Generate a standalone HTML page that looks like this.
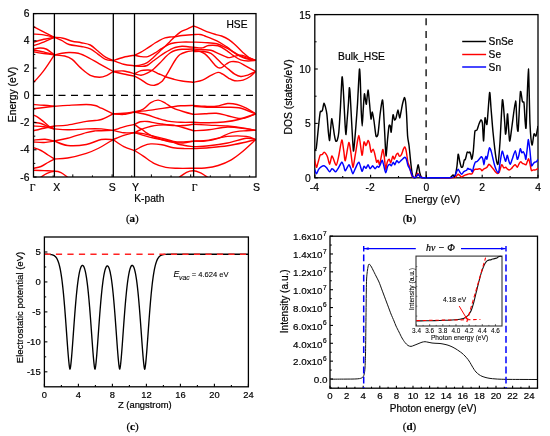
<!DOCTYPE html>
<html><head><meta charset="utf-8"><title>SnSe figure</title>
<style>html,body{margin:0;padding:0;background:#fff;overflow:hidden}svg{display:block}text{stroke:#000;stroke-width:0.2px;fill:#000}text.sm{stroke-width:0.08px}</style>
</head><body>
<svg width="550" height="436" viewBox="0 0 550 436"><rect width="550" height="436" fill="#fff"/><g id="pa">
<clipPath id="ca"><rect x="33.5" y="13.6" width="222.5" height="163.4"/></clipPath>
<g clip-path="url(#ca)" fill="none" stroke="#f00" stroke-width="1.4">
<path d="M33.5,26.6C34.93,27.35 38.62,29.32 42.1,31.1C45.58,32.88 52.35,36.27 54.4,37.3"/>
<path d="M33.5,34.1C34.93,34.18 38.62,34.07 42.1,34.6C45.58,35.13 52.35,36.85 54.4,37.3"/>
<path d="M33.5,42.2C34.93,41.78 38.62,40.52 42.1,39.7C45.58,38.88 52.35,37.7 54.4,37.3"/>
<path d="M33.5,45.7C34.93,45.2 38.62,44.1 42.1,42.7C45.58,41.3 52.35,38.2 54.4,37.3"/>
<path d="M33.5,49.3C34.58,49.08 37.92,48.05 40,48C42.08,47.95 43.6,47.87 46,49C48.4,50.13 53,53.83 54.4,54.8"/>
<path d="M33.5,50.3C34.93,50.52 38.62,50.85 42.1,51.6C45.58,52.35 52.35,54.27 54.4,54.8"/>
<path d="M33.5,51.8C34.93,52.05 38.62,52.8 42.1,53.3C45.58,53.8 52.35,54.55 54.4,54.8"/>
<path d="M33.5,82.3C34.25,81.52 36.42,79.38 38,77.6C39.58,75.82 41.33,73.77 43,71.6C44.67,69.43 46.1,67.4 48,64.6C49.9,61.8 53.33,56.43 54.4,54.8"/>
<path d="M33.5,104.5C35.25,104.63 40.52,105 44,105.3C47.48,105.6 52.67,106.13 54.4,106.3"/>
<path d="M33.5,108.8C35.25,108.58 40.52,107.92 44,107.5C47.48,107.08 52.67,106.5 54.4,106.3"/>
<path d="M33.5,122.3C34.75,122.5 38.58,122.8 41,123.5C43.42,124.2 45.77,125.6 48,126.5C50.23,127.4 53.33,128.5 54.4,128.9"/>
<path d="M33.5,115C34.25,115.38 36.25,116.13 38,117.3C39.75,118.47 42.17,120.5 44,122C45.83,123.5 47.27,125.15 49,126.3C50.73,127.45 53.5,128.47 54.4,128.9"/>
<path d="M33.5,126C35.25,126.13 40.52,126.32 44,126.8C47.48,127.28 52.67,128.55 54.4,128.9"/>
<path d="M33.5,130.7C35.25,130.28 40.52,128.98 44,128.2C47.48,127.42 52.67,126.37 54.4,126"/>
<path d="M33.5,140.1C35.42,139.95 41.52,139.05 45,139.2C48.48,139.35 52.83,140.7 54.4,141"/>
<path d="M33.5,142C35.25,142.08 40.52,142.67 44,142.5C47.48,142.33 52.67,141.25 54.4,141"/>
<path d="M33.5,147.7C34.75,148.17 38.58,149.28 41,150.5C43.42,151.72 45.77,153.58 48,155C50.23,156.42 53.33,158.33 54.4,159"/>
<path d="M33.5,168.3C34.75,168 38.58,167.47 41,166.5C43.42,165.53 45.77,163.75 48,162.5C50.23,161.25 53.33,159.58 54.4,159"/>
<path d="M33.5,170.2C35.25,170.27 40.52,170.45 44,170.6C47.48,170.75 52.67,171.02 54.4,171.1"/>
<path d="M40.5,177.5C41.58,176.82 44.68,174.43 47,173.4C49.32,172.37 52.07,171.43 54.4,171.3C56.73,171.17 58.73,171.57 61,172.6C63.27,173.63 66.83,176.68 68,177.5"/>
<path d="M54.4,37.3C55.85,37.45 60.13,37.55 63.1,38.2C66.07,38.85 69.18,40.45 72.2,41.2C75.22,41.95 78.18,42.07 81.2,42.7C84.22,43.33 87.52,43.62 90.3,45C93.08,46.38 95.37,48.98 97.9,51C100.43,53.02 102.93,55.5 105.5,57.1C108.07,58.7 112,60.02 113.3,60.6"/>
<path d="M54.4,37.3C55.6,37.82 59.15,39.2 61.6,40.4C64.05,41.6 65.83,43.48 69.1,44.5C72.37,45.52 77.67,45.78 81.2,46.5C84.73,47.22 87.52,47.53 90.3,48.8C93.08,50.07 95.37,52.33 97.9,54.1C100.43,55.87 102.93,58.32 105.5,59.4C108.07,60.48 112,60.4 113.3,60.6"/>
<path d="M54.4,55C55.67,54.7 59.55,53.62 62,53.2C64.45,52.78 66.4,52.48 69.1,52.5C71.8,52.52 74.92,52.42 78.2,53.3C81.48,54.18 85.27,56.03 88.8,57.8C92.33,59.57 95.32,61.62 99.4,63.9C103.48,66.18 110.98,70.23 113.3,71.5"/>
<path d="M54.4,55C56.1,55.17 61.63,55.27 64.6,56C67.57,56.73 69.43,57.33 72.2,59.4C74.97,61.47 78.18,65.75 81.2,68.4C84.22,71.05 87.27,73.83 90.3,75.3C93.33,76.77 96.62,77.2 99.4,77.2C102.18,77.2 104.68,76.25 107,75.3C109.32,74.35 112.25,72.13 113.3,71.5"/>
<path d="M54.4,106.3C56.6,106.15 62.28,105.7 67.6,105.4C72.92,105.1 81.73,104.48 86.3,104.5C90.87,104.52 92.5,104.88 95,105.5C97.5,106.12 98.28,106.82 101.3,108.2C104.32,109.58 111.13,112.87 113.1,113.8"/>
<path d="M54.4,126C56.6,125.85 62.28,125.87 67.6,125.1C72.92,124.33 81.73,122.17 86.3,121.4C90.87,120.63 92.5,120.82 95,120.5C97.5,120.18 98.28,120.62 101.3,119.5C104.32,118.38 111.13,114.75 113.1,113.8"/>
<path d="M54.4,128.9C56.6,129.05 62.28,129.8 67.6,129.8C72.92,129.8 80.68,129.05 86.3,128.9C91.92,128.75 96.83,128.65 101.3,128.9C105.77,129.15 111.13,130.15 113.1,130.4"/>
<path d="M54.4,141C56.6,140.55 62.28,139.7 67.6,138.3C72.92,136.9 81.73,133.83 86.3,132.6C90.87,131.37 92.5,131.22 95,130.9C97.5,130.58 98.28,130.78 101.3,130.7C104.32,130.62 111.13,130.45 113.1,130.4"/>
<path d="M54.4,141C56.6,141.75 62.28,144.92 67.6,145.5C72.92,146.08 80.68,145.5 86.3,144.5C91.92,143.5 96.83,140.32 101.3,139.5C105.77,138.68 111.13,139.58 113.1,139.6"/>
<path d="M54.4,159C56.6,158.83 62.28,158.95 67.6,158C72.92,157.05 81.23,154.88 86.3,153.3C91.37,151.72 93.53,150.78 98,148.5C102.47,146.22 110.58,141.08 113.1,139.6"/>
<path d="M113.3,60.6C115.02,60.03 120.07,58.1 123.6,57.2C127.13,56.3 132.68,55.53 134.5,55.2"/>
<path d="M113.3,60.6C115.02,61.2 120.07,63.33 123.6,64.2C127.13,65.07 132.68,65.53 134.5,65.8"/>
<path d="M113.3,71.5C115.02,71.42 120.07,70.62 123.6,71C127.13,71.38 132.68,73.33 134.5,73.8"/>
<path d="M113.3,71.5C115.02,71.92 120.07,73.23 123.6,74C127.13,74.77 132.68,75.75 134.5,76.1"/>
<path d="M113.1,113.8C114.88,113.72 120.23,113.6 123.8,113.3C127.37,113 132.72,112.22 134.5,112"/>
<path d="M113.1,113.8C114.88,113.9 120.23,114.7 123.8,114.4C127.37,114.1 132.72,112.4 134.5,112"/>
<path d="M113.1,130.4C114.88,129.8 120.23,127.8 123.8,126.8C127.37,125.8 132.72,124.8 134.5,124.4"/>
<path d="M113.1,130.4C114.88,130.8 120.23,132.43 123.8,132.8C127.37,133.17 132.72,132.63 134.5,132.6"/>
<path d="M113.1,139.6C114.88,138.9 120.23,136.57 123.8,135.4C127.37,134.23 132.72,133.07 134.5,132.6"/>
<path d="M113.1,139.6C114.88,140.78 120.23,144.88 123.8,146.7C127.37,148.52 132.72,149.87 134.5,150.5"/>
<path d="M134.5,55.2C135.58,54.68 139.08,53.13 141,52.1C142.92,51.07 144.35,50.03 146,49C147.65,47.97 149.4,46.9 150.9,45.9C152.4,44.9 153.55,43.93 155,43C156.45,42.07 157.93,41.15 159.6,40.3C161.27,39.45 163.27,38.45 165,37.9C166.73,37.35 168.33,37.18 170,37C171.67,36.82 173,37.05 175,36.8C177,36.55 178.9,35.87 182,35.5C185.1,35.13 191.67,34.75 193.6,34.6"/>
<path d="M134.5,55.2C135.57,55.43 138.68,56.37 140.9,56.6C143.12,56.83 145.52,57.17 147.8,56.6C150.08,56.03 152.32,54.53 154.6,53.2C156.88,51.87 159.2,50.03 161.5,48.6C163.8,47.17 166.15,45.57 168.4,44.6C170.65,43.63 172.73,43.22 175,42.8C177.27,42.38 178.9,42.22 182,42.1C185.1,41.98 191.67,42.1 193.6,42.1"/>
<path d="M134.5,65.8C135.58,65.65 138.88,65.43 141,64.9C143.12,64.37 145.13,63.83 147.2,62.6C149.27,61.37 151.33,59.35 153.4,57.5C155.47,55.65 157.67,53.33 159.6,51.5C161.53,49.67 163.27,48.17 165,46.5C166.73,44.83 168.5,43 170,41.5C171.5,40 172.23,39.12 174,37.5C175.77,35.88 178.35,33.23 180.6,31.8C182.85,30.37 185.33,29.87 187.5,28.9C189.67,27.93 192.58,26.48 193.6,26"/>
<path d="M134.5,65.8C135.58,65.9 138.88,66.45 141,66.4C143.12,66.35 145.13,66.43 147.2,65.5C149.27,64.57 151.33,62.35 153.4,60.8C155.47,59.25 157.67,57.57 159.6,56.2C161.53,54.83 163.27,53.67 165,52.6C166.73,51.53 168.33,50.65 170,49.8C171.67,48.95 173,48.08 175,47.5C177,46.92 179.83,46.43 182,46.3C184.17,46.17 186.07,46.55 188,46.7C189.93,46.85 192.67,47.12 193.6,47.2"/>
<path d="M134.5,73.8C135.58,74.03 138.88,75.3 141,75.2C143.12,75.1 145.13,74.2 147.2,73.2C149.27,72.2 151.33,70.85 153.4,69.2C155.47,67.55 157.67,65.25 159.6,63.3C161.53,61.35 163.27,59.22 165,57.5C166.73,55.78 168.33,54.17 170,53C171.67,51.83 173,51.12 175,50.5C177,49.88 179.83,49.52 182,49.3C184.17,49.08 186.07,49.25 188,49.2C189.93,49.15 192.67,49.03 193.6,49"/>
<path d="M134.5,73.8C135.57,73.27 138.68,71.23 140.9,70.6C143.12,69.97 145.9,70 147.8,70C149.7,70 150.4,69.93 152.3,70.6C154.2,71.27 156.9,72.93 159.2,74C161.5,75.07 163.63,76.12 166.1,77C168.57,77.88 171.35,78.63 174,79.3C176.65,79.97 178.73,80.5 182,81C185.27,81.5 191.67,82.08 193.6,82.3"/>
<path d="M134.5,76.1C135.57,76.68 138.68,78.27 140.9,79.6C143.12,80.93 145.52,83.15 147.8,84.1C150.08,85.05 152.32,85.68 154.6,85.3C156.88,84.92 159.4,83.72 161.5,81.8C163.6,79.88 165.48,76.47 167.2,73.8C168.92,71.13 170.33,68.27 171.8,65.8C173.27,63.33 174.63,60.88 176,59C177.37,57.12 178.33,55.67 180,54.5C181.67,53.33 183.73,52.63 186,52C188.27,51.37 192.33,50.92 193.6,50.7"/>
<path d="M134.5,112C135.97,111.52 140.58,110.67 143.3,109.1C146.02,107.53 148.3,104.1 150.8,102.6C153.3,101.1 155.8,99.95 158.3,100.1C160.8,100.25 163.3,102.15 165.8,103.5C168.3,104.85 170.17,106.78 173.3,108.2C176.43,109.62 181.22,110.97 184.6,112C187.98,113.03 192.1,114 193.6,114.4"/>
<path d="M134.5,112C137.22,111.68 144.95,110.88 150.8,110.1C156.65,109.32 164.6,108.02 169.6,107.3C174.6,106.58 176.8,106.12 180.8,105.8C184.8,105.48 191.47,105.47 193.6,105.4"/>
<path d="M134.5,112C136.58,112.47 143.03,113.72 147,114.8C150.97,115.88 154.53,117.4 158.3,118.5C162.07,119.6 165.85,120.77 169.6,121.4C173.35,122.03 176.8,122.15 180.8,122.3C184.8,122.45 191.47,122.3 193.6,122.3"/>
<path d="M134.5,124.4C135.47,123.97 138.13,122.28 140.3,121.8C142.47,121.32 145.08,121.32 147.5,121.5C149.92,121.68 152.37,122.48 154.8,122.9C157.23,123.32 159.07,123.57 162.1,124C165.13,124.43 169.52,125.25 173,125.5C176.48,125.75 179.57,125.72 183,125.5C186.43,125.28 191.83,124.42 193.6,124.2"/>
<path d="M134.5,132.7C135.22,132.33 137.23,131.22 138.8,130.5C140.37,129.78 141.83,129.12 143.9,128.4C145.97,127.68 148.77,126.75 151.2,126.2C153.63,125.65 156.08,125.35 158.5,125.1C160.92,124.85 163.28,124.7 165.7,124.7C168.12,124.7 170.12,124.63 173,125.1C175.88,125.57 179.57,126.57 183,127.5C186.43,128.43 191.83,130.17 193.6,130.7"/>
<path d="M134.5,132.6C135.97,132.77 139.97,132.97 143.3,133.6C146.63,134.23 150.75,135.47 154.5,136.4C158.25,137.33 162.03,138.27 165.8,139.2C169.57,140.13 172.47,141.68 177.1,142C181.73,142.32 190.85,141.25 193.6,141.1"/>
<path d="M134.5,132.6C135.97,133.07 139.97,134.45 143.3,135.4C146.63,136.35 150.12,137.35 154.5,138.3C158.88,139.25 165.22,140.02 169.6,141.1C173.98,142.18 176.8,143.87 180.8,144.8C184.8,145.73 191.47,146.38 193.6,146.7"/>
<path d="M134.5,124.4C135.22,124.93 137.47,126.7 138.8,127.6C140.13,128.5 141.28,128.95 142.5,129.8C143.72,130.65 144.65,131.73 146.1,132.7C147.55,133.67 149.13,134.63 151.2,135.6C153.27,136.57 156.08,137.65 158.5,138.5C160.92,139.35 163.28,140.08 165.7,140.7C168.12,141.32 170.12,141.82 173,142.2C175.88,142.58 179.57,143.18 183,143C186.43,142.82 191.83,141.42 193.6,141.1"/>
<path d="M134.5,150.5C135.97,149.72 140.58,146.9 143.3,145.8C146.02,144.7 147.68,144.07 150.8,143.9C153.92,143.73 158.25,144.17 162,144.8C165.75,145.43 169.53,147.07 173.3,147.7C177.07,148.33 181.22,148.45 184.6,148.6C187.98,148.75 192.1,148.6 193.6,148.6"/>
<path d="M134.5,150.5C135.97,151.43 139.97,153.92 143.3,156.1C146.63,158.28 150.75,161.72 154.5,163.6C158.25,165.48 162.03,166.62 165.8,167.4C169.57,168.18 172.47,168.15 177.1,168.3C181.73,168.45 190.85,168.3 193.6,168.3"/>
<path d="M179,177.5C180.25,176.63 184.07,173.42 186.5,172.3C188.93,171.18 191.35,170.75 193.6,170.8C195.85,170.85 198.1,171.8 200,172.6C201.9,173.4 203.67,174.78 205,175.6C206.33,176.42 207.5,177.18 208,177.5"/>
<path d="M193.6,26C194.6,26.4 197,27.33 199.6,28.4C202.2,29.47 206.47,31.37 209.2,32.4C211.93,33.43 213.93,34 216,34.6C218.07,35.2 219.47,35.17 221.6,36C223.73,36.83 226.42,38.02 228.8,39.6C231.18,41.18 233.52,43.32 235.9,45.5C238.28,47.68 240.92,50.7 243.1,52.7C245.28,54.7 246.92,56.22 249,57.5C251.08,58.78 254.5,59.92 255.6,60.4"/>
<path d="M193.6,34.6C194.67,34.58 198.12,34.27 200,34.5C201.88,34.73 202.08,34.95 204.9,36C207.72,37.05 213.32,39.02 216.9,40.8C220.48,42.58 223.23,44.52 226.4,46.7C229.57,48.88 232.92,52 235.9,53.9C238.88,55.8 241.02,57.02 244.3,58.1C247.58,59.18 253.72,60.02 255.6,60.4"/>
<path d="M193.6,42.1C195.5,42.18 201.12,42.32 205,42.6C208.88,42.88 213.33,42.92 216.9,43.8C220.47,44.68 223.43,46.42 226.4,47.9C229.37,49.38 231.92,51.2 234.7,52.7C237.48,54.2 239.62,55.62 243.1,56.9C246.58,58.18 253.52,59.82 255.6,60.4"/>
<path d="M193.6,47.2C195.08,47.32 200.02,48.18 202.5,47.9C204.98,47.62 205.92,45.85 208.5,45.5C211.08,45.15 215.02,45 218,45.8C220.98,46.6 223.82,48.65 226.4,50.3C228.98,51.95 231.12,54.1 233.5,55.7C235.88,57.3 238.28,59.02 240.7,59.9C243.12,60.78 245.52,60.92 248,61C250.48,61.08 254.33,60.5 255.6,60.4"/>
<path d="M193.6,49C195.08,49.12 199.62,49.48 202.5,49.7C205.38,49.92 208.12,49.6 210.9,50.3C213.68,51 216.42,52.7 219.2,53.9C221.98,55.1 225.4,57 227.6,57.5C229.8,58 230.22,57.3 232.4,56.9C234.58,56.5 238.32,55.1 240.7,55.1C243.08,55.1 244.22,56.02 246.7,56.9C249.18,57.78 254.12,59.82 255.6,60.4"/>
<path d="M193.6,50.7C194.7,50.83 198.32,50.97 200.2,51.5C202.08,52.03 203.32,52.7 204.9,53.9C206.48,55.1 208.1,56.92 209.7,58.7C211.3,60.48 213.12,63.12 214.5,64.6C215.88,66.08 216.82,67.1 218,67.6C219.18,68.1 220.2,68.2 221.6,67.6C223,67 224.8,65 226.4,64C228,63 229.22,61.9 231.2,61.6C233.18,61.3 235.92,61.5 238.3,62.2C240.68,62.9 242.62,64.25 245.5,65.8C248.38,67.35 253.92,70.55 255.6,71.5"/>
<path d="M193.6,51.5C195.28,51.5 200.82,51.2 203.7,51.5C206.58,51.8 208.7,52.1 210.9,53.3C213.1,54.5 214.92,56.82 216.9,58.7C218.88,60.58 220.82,62.82 222.8,64.6C224.78,66.38 226.82,67.8 228.8,69.4C230.78,71 232.72,73.02 234.7,74.2C236.68,75.38 238.7,76.3 240.7,76.5C242.7,76.7 244.22,76.23 246.7,75.4C249.18,74.57 254.12,72.15 255.6,71.5"/>
<path d="M193.6,82.3C195.08,81.93 199.62,81.25 202.5,80.1C205.38,78.95 208.32,76.68 210.9,75.4C213.48,74.12 216.02,72.6 218,72.4C219.98,72.2 221,73.22 222.8,74.2C224.6,75.18 226.82,77.22 228.8,78.3C230.78,79.38 232.32,80.4 234.7,80.7C237.08,81 240.52,80.8 243.1,80.1C245.68,79.4 248.12,77.93 250.2,76.5C252.28,75.07 254.7,72.33 255.6,71.5"/>
<path d="M193.6,105.4C195.5,105.55 201.22,106.15 205,106.3C208.78,106.45 212.53,106.77 216.3,106.3C220.07,105.83 224.15,103.8 227.6,103.5C231.05,103.2 233.88,103.72 237,104.5C240.12,105.28 243.18,106.65 246.3,108.2C249.42,109.75 254.13,112.87 255.7,113.8"/>
<path d="M193.6,106.3C196.13,106.47 203.77,107.13 208.8,107.3C213.83,107.47 218.8,107.22 223.8,107.3C228.8,107.38 233.48,106.72 238.8,107.8C244.12,108.88 252.88,112.8 255.7,113.8"/>
<path d="M193.6,114.4C195.5,114.3 201.22,113.98 205,113.8C208.78,113.62 212.53,112.98 216.3,113.3C220.07,113.62 223.85,114.83 227.6,115.7C231.35,116.57 235.68,118.18 238.8,118.5C241.92,118.82 243.48,118.38 246.3,117.6C249.12,116.82 254.13,114.43 255.7,113.8"/>
<path d="M193.6,122.3C196.13,122.38 203.77,122.85 208.8,122.8C213.83,122.75 218.8,122.55 223.8,122C228.8,121.45 233.48,120.87 238.8,119.5C244.12,118.13 252.88,114.75 255.7,113.8"/>
<path d="M193.6,124.2C196.13,124.35 203.13,124.8 208.8,125.1C214.47,125.4 221.97,125.53 227.6,126C233.23,126.47 237.92,127.17 242.6,127.9C247.28,128.63 253.52,129.98 255.7,130.4"/>
<path d="M193.6,130.7C196.13,130.55 203.13,130.42 208.8,129.8C214.47,129.18 221.35,127.15 227.6,127C233.85,126.85 241.62,128.33 246.3,128.9C250.98,129.47 254.13,130.15 255.7,130.4"/>
<path d="M193.6,141.1C195.5,141.1 200.9,141.57 205,141.1C209.1,140.63 213.82,139.72 218.2,138.3C222.58,136.88 226.62,133.87 231.3,132.6C235.98,131.33 242.23,131.07 246.3,130.7C250.37,130.33 254.13,130.45 255.7,130.4"/>
<path d="M193.6,141.1C196.13,140.93 203.13,140.88 208.8,140.1C214.47,139.32 221.35,137.02 227.6,136.4C233.85,135.78 241.62,135.87 246.3,136.4C250.98,136.93 254.13,139.07 255.7,139.6"/>
<path d="M193.6,146.7C196.13,146.55 203.13,146.42 208.8,145.8C214.47,145.18 221.35,144.25 227.6,143C233.85,141.75 241.62,138.87 246.3,138.3C250.98,137.73 254.13,139.38 255.7,139.6"/>
<path d="M193.6,148.6C196.13,148.45 203.13,148.17 208.8,147.7C214.47,147.23 221.35,146.75 227.6,145.8C233.85,144.85 241.62,143.03 246.3,142C250.98,140.97 254.13,140 255.7,139.6"/>
<path d="M193.6,168.3C195.5,168.25 200.9,168.47 205,168C209.1,167.53 213.82,166.87 218.2,165.5C222.58,164.13 227.23,162.13 231.3,159.8C235.37,157.47 238.53,154.87 242.6,151.5C246.67,148.13 253.52,141.58 255.7,139.6"/>
</g>
<line x1="33.5" y1="95.3" x2="256.0" y2="95.3" stroke="#000" stroke-width="1.3" stroke-dasharray="7,5.5"/>
<line x1="54.4" y1="13.6" x2="54.4" y2="177.0" stroke="#000" stroke-width="1.3"/>
<line x1="113.3" y1="13.6" x2="113.3" y2="177.0" stroke="#000" stroke-width="1.3"/>
<line x1="134.5" y1="13.6" x2="134.5" y2="177.0" stroke="#000" stroke-width="1.3"/>
<line x1="193.6" y1="13.6" x2="193.6" y2="177.0" stroke="#000" stroke-width="1.3"/>
<rect x="33.5" y="13.6" width="222.5" height="163.4" fill="none" stroke="#000" stroke-width="1.3"/>
<line x1="33.5" y1="177.02" x2="36.5" y2="177.02" stroke="#000" stroke-width="1.1"/>
<text x="29.5" y="180.62" font-size="10.3" text-anchor="end" font-family="'Liberation Sans', Arial, sans-serif" >-6</text>
<line x1="33.5" y1="149.78" x2="36.5" y2="149.78" stroke="#000" stroke-width="1.1"/>
<text x="29.5" y="153.38" font-size="10.3" text-anchor="end" font-family="'Liberation Sans', Arial, sans-serif" >-4</text>
<line x1="33.5" y1="122.54" x2="36.5" y2="122.54" stroke="#000" stroke-width="1.1"/>
<text x="29.5" y="126.14" font-size="10.3" text-anchor="end" font-family="'Liberation Sans', Arial, sans-serif" >-2</text>
<line x1="33.5" y1="95.3" x2="36.5" y2="95.3" stroke="#000" stroke-width="1.1"/>
<text x="29.5" y="98.9" font-size="10.3" text-anchor="end" font-family="'Liberation Sans', Arial, sans-serif" >0</text>
<line x1="33.5" y1="68.06" x2="36.5" y2="68.06" stroke="#000" stroke-width="1.1"/>
<text x="29.5" y="71.66" font-size="10.3" text-anchor="end" font-family="'Liberation Sans', Arial, sans-serif" >2</text>
<line x1="33.5" y1="40.82" x2="36.5" y2="40.82" stroke="#000" stroke-width="1.1"/>
<text x="29.5" y="44.42" font-size="10.3" text-anchor="end" font-family="'Liberation Sans', Arial, sans-serif" >4</text>
<line x1="33.5" y1="13.58" x2="36.5" y2="13.58" stroke="#000" stroke-width="1.1"/>
<text x="29.5" y="17.18" font-size="10.3" text-anchor="end" font-family="'Liberation Sans', Arial, sans-serif" >6</text>
<line x1="33.5" y1="163.4" x2="35.3" y2="163.4" stroke="#000" stroke-width="1"/>
<line x1="33.5" y1="136.16" x2="35.3" y2="136.16" stroke="#000" stroke-width="1"/>
<line x1="33.5" y1="108.92" x2="35.3" y2="108.92" stroke="#000" stroke-width="1"/>
<line x1="33.5" y1="81.68" x2="35.3" y2="81.68" stroke="#000" stroke-width="1"/>
<line x1="33.5" y1="54.44" x2="35.3" y2="54.44" stroke="#000" stroke-width="1"/>
<line x1="33.5" y1="27.2" x2="35.3" y2="27.2" stroke="#000" stroke-width="1"/>
<line x1="53.15" y1="177.0" x2="53.15" y2="175.4" stroke="#000" stroke-width="1"/>
<line x1="72.8" y1="177.0" x2="72.8" y2="174.4" stroke="#000" stroke-width="1"/>
<line x1="92.45" y1="177.0" x2="92.45" y2="175.4" stroke="#000" stroke-width="1"/>
<line x1="112.1" y1="177.0" x2="112.1" y2="174.4" stroke="#000" stroke-width="1"/>
<line x1="131.75" y1="177.0" x2="131.75" y2="175.4" stroke="#000" stroke-width="1"/>
<line x1="151.4" y1="177.0" x2="151.4" y2="174.4" stroke="#000" stroke-width="1"/>
<line x1="171.05" y1="177.0" x2="171.05" y2="175.4" stroke="#000" stroke-width="1"/>
<line x1="190.7" y1="177.0" x2="190.7" y2="174.4" stroke="#000" stroke-width="1"/>
<line x1="210.35" y1="177.0" x2="210.35" y2="175.4" stroke="#000" stroke-width="1"/>
<line x1="230" y1="177.0" x2="230" y2="174.4" stroke="#000" stroke-width="1"/>
<line x1="249.65" y1="177.0" x2="249.65" y2="175.4" stroke="#000" stroke-width="1"/>
<text x="32.6" y="190.6" font-size="9.9" text-anchor="middle" font-family="'Liberation Serif', 'Times New Roman', serif" >Γ</text>
<text x="56.7" y="191" font-size="10.5" text-anchor="middle" font-family="'Liberation Sans', Arial, sans-serif" >X</text>
<text x="112.2" y="191" font-size="10.5" text-anchor="middle" font-family="'Liberation Sans', Arial, sans-serif" >S</text>
<text x="135.6" y="191" font-size="10.5" text-anchor="middle" font-family="'Liberation Sans', Arial, sans-serif" >Y</text>
<text x="194.6" y="190.6" font-size="9.9" text-anchor="middle" font-family="'Liberation Serif', 'Times New Roman', serif" >Γ</text>
<text x="256.5" y="191" font-size="10.5" text-anchor="middle" font-family="'Liberation Sans', Arial, sans-serif" >S</text>
<text x="149.3" y="202" font-size="10.2" text-anchor="middle" font-family="'Liberation Sans', Arial, sans-serif" >K-path</text>
<text x="237" y="28.3" font-size="10.2" text-anchor="middle" font-family="'Liberation Sans', Arial, sans-serif" >HSE</text>
<text transform="translate(15.9,94.5) rotate(-90)" font-size="10.4" text-anchor="middle" font-family="'Liberation Sans', Arial, sans-serif">Energy (eV)</text>
<text x="132.3" y="221.6" font-size="11" text-anchor="middle" font-family="'Liberation Serif', 'Times New Roman', serif">(<tspan font-weight="bold">a</tspan>)</text>
</g>
<g id="pb">
<clipPath id="cb"><rect x="314.8" y="14.6" width="223.2" height="164.4"/></clipPath>
<line x1="426.1" y1="14.6" x2="426.1" y2="177.8" stroke="#000" stroke-width="1.3" stroke-dasharray="6.9,5.85" stroke-dashoffset="9.05"/>
<rect x="314.8" y="14.6" width="223.2" height="163.20000000000002" fill="none" stroke="#000" stroke-width="1.3"/>
<g clip-path="url(#cb)" fill="none" stroke-width="1.45" stroke-linejoin="round">
<path stroke="#000" d="M315,150C315.14,149.85 315.94,149.9 316.2,148.7C316.46,147.5 316.91,142.49 317.2,139.7C317.49,136.91 318.35,128.02 318.7,124.8C319.05,121.58 319.85,113.66 320.2,112.1C320.55,110.54 321.41,111.74 321.7,111.4C321.99,111.06 322.44,110.16 322.7,109.2C322.96,108.24 323.58,103.47 323.9,103.2C324.21,102.93 325.05,105.59 325.4,106.9C325.75,108.21 326.55,111.44 326.9,114.4C327.25,117.36 328.08,129.26 328.4,132.3C328.71,135.34 329.34,140.85 329.6,140.5C329.86,140.15 330.36,131.83 330.6,129.3C330.85,126.77 331.43,119.33 331.7,118.8C331.97,118.27 332.58,122.89 332.9,124.8C333.21,126.71 334.06,133.29 334.4,135.2C334.74,137.11 335.46,140.64 335.8,141.2C336.14,141.76 336.95,141.04 337.3,140C337.65,138.96 338.45,135.81 338.8,132.3C339.15,128.79 339.93,116.29 340.3,109.9C340.67,103.51 341.69,80.41 342,77.5C342.31,74.59 342.77,82.08 343,85C343.23,87.92 343.75,97.86 344,102.5C344.25,107.14 344.87,121.07 345.1,124.8C345.33,128.53 345.78,134.85 346,134.5C346.22,134.15 346.71,125.53 347,121.8C347.29,118.07 348.23,106.44 348.5,102.5C348.77,98.56 349.12,89.22 349.3,88C349.48,86.78 349.8,89.43 350,92C350.2,94.57 350.74,105.3 351,110C351.26,114.7 351.92,127.53 352.2,132.3C352.48,137.07 353.13,149.69 353.4,150.9C353.67,152.11 354.2,145.74 354.5,142.7C354.8,139.66 355.65,129.31 356,124.8C356.35,120.28 357.1,110.44 357.5,104C357.9,97.56 359.07,72.4 359.4,69.6C359.73,66.8 360.09,75.29 360.3,80C360.51,84.71 360.98,104.63 361.2,110C361.42,115.37 361.97,126 362.2,126C362.43,126 362.94,113.73 363.2,110C363.46,106.27 364.13,95.17 364.4,94C364.67,92.83 365.27,98.83 365.5,100C365.73,101.17 366.11,105.17 366.4,104C366.69,102.83 367.64,90.12 368,90C368.36,89.88 369.15,99.62 369.5,103C369.85,106.38 370.67,117.95 371,119C371.33,120.05 371.95,111.77 372.3,112C372.65,112.23 373.57,118.2 374,121C374.43,123.8 375.53,134.48 376,136C376.47,137.52 377.53,136.45 378,134C378.47,131.55 379.49,118.97 380,115C380.51,111.03 381.99,100.58 382.4,100C382.81,99.42 383.22,105.92 383.5,110C383.78,114.08 384.51,129.63 384.8,135C385.09,140.37 385.69,155.42 386,156C386.31,156.58 387.15,143.5 387.5,140C387.85,136.5 388.67,127.63 389,126C389.33,124.37 390.04,125.3 390.3,126C390.56,126.7 390.88,133.28 391.2,132C391.51,130.72 392.62,116.4 393,115C393.38,113.6 394.15,119.65 394.5,120C394.85,120.35 395.59,119.17 396,118C396.41,116.83 397.58,110 398,110C398.42,110 399.25,117.77 399.6,118C399.95,118.23 400.66,113.63 401,112C401.34,110.37 402.1,105.68 402.5,104C402.9,102.32 404.04,97.83 404.4,97.6C404.76,97.37 405.34,99.97 405.6,102C405.86,104.03 406.37,111.03 406.6,115C406.83,118.97 407.31,132.38 407.6,136C407.89,139.62 408.75,143.06 409.1,146C409.45,148.94 410.25,158.01 410.6,161.2C410.95,164.38 411.75,171.41 412.1,173.3C412.45,175.19 413.24,176.92 413.6,177.4C413.96,177.88 414.84,178.11 415.2,177.4C415.56,176.69 416.35,172.77 416.7,171.3C417.05,169.83 417.85,164.68 418.2,164.8C418.55,164.92 419.35,170.89 419.7,172.3C420.05,173.71 420.79,176.26 421.2,176.9C421.61,177.54 422.97,177.7 423.2,177.8"/>
<path stroke="#000" d="M423.2,177.8C425.86,177.8 442.87,177.82 446,177.8C449.13,177.78 449.18,177.93 450,177.6C450.82,177.27 452.42,175.19 453,175C453.58,174.81 454.53,177.05 455,176C455.47,174.95 456.63,168.54 457,166C457.37,163.46 457.88,154.76 458.2,154.2C458.51,153.64 459.35,159.73 459.7,161.2C460.05,162.67 460.85,166.15 461.2,166.8C461.55,167.45 462.35,167.57 462.7,166.8C463.05,166.03 463.91,161.03 464.2,160.2C464.49,159.37 464.97,160.17 465.2,159.7C465.43,159.23 465.97,157.09 466.2,156.2C466.43,155.31 466.9,152.51 467.2,152.1C467.5,151.69 468.5,152.7 468.8,152.7C469.1,152.7 469.57,151.87 469.8,152.1C470.03,152.33 470.57,153.87 470.8,154.7C471.03,155.53 471.51,159.62 471.8,159.2C472.09,158.78 473.01,153.57 473.3,151.1C473.59,148.63 474.1,140.34 474.3,138C474.5,135.66 474.69,131.93 475,131C475.31,130.07 476.53,130.82 477,130C477.47,129.18 478.53,125.17 479,124C479.47,122.83 480.6,120.12 481,120C481.4,119.88 482.1,120.55 482.4,123C482.7,125.45 483.3,141.58 483.6,141C483.9,140.42 484.6,119.98 485,118C485.4,116.02 486.46,126.96 487,124C487.54,121.04 489.13,94.47 489.6,92.6C490.07,90.73 490.6,103.4 491,108C491.4,112.6 492.42,126.17 493,132C493.58,137.83 495.42,154.27 496,158C496.58,161.73 497.53,165.87 498,164C498.47,162.13 499.49,149.47 500,142C500.51,134.53 501.89,102.8 502.4,100C502.91,97.2 504.04,114.03 504.4,118C504.76,121.97 505.25,132.83 505.5,134C505.75,135.17 506.25,130.33 506.5,128C506.75,125.67 507.24,112.48 507.6,114C507.96,115.52 509.09,139.6 509.6,141C510.11,142.4 511.3,130.67 512,126C512.7,121.33 515.02,101.12 515.6,101C516.18,100.88 516.7,121.62 517,125C517.3,128.38 517.8,133.85 518.2,130C518.6,126.15 519.91,95.31 520.4,92C520.89,88.69 521.98,100.32 522.4,101.6C522.82,102.88 523.67,100.62 524,103C524.33,105.38 524.94,119.32 525.2,122C525.46,124.68 525.83,132.18 526.2,126C526.57,119.82 527.96,69.23 528.4,69C528.84,68.77 529.58,115.13 530,124C530.42,132.87 531.53,143.83 532,145C532.47,146.17 533.53,135.05 534,134C534.47,132.95 535.53,136.93 536,136C536.47,135.07 537.77,127.17 538,126"/>
<path stroke="#f00" d="M314.5,159.2C314.73,160.14 316.08,166.95 316.5,167.3C316.92,167.65 317.68,163.61 318.1,162.2C318.52,160.79 319.69,156.07 320.1,155.2C320.51,154.32 321.31,154.82 321.6,154.7C321.89,154.58 322.31,154.5 322.6,154.2C322.89,153.9 323.69,152.1 324.1,152.1C324.51,152.1 325.69,153.6 326.1,154.2C326.51,154.79 327.18,156.02 327.6,157.2C328.02,158.38 329.22,164.42 329.7,164.3C330.18,164.18 331.29,156.91 331.7,156.2C332.11,155.49 332.68,157.14 333.2,158.2C333.72,159.26 335.56,165.53 336.2,165.3C336.84,165.07 338.05,159.15 338.7,156.2C339.35,153.25 341.2,140.59 341.8,140C342.4,139.41 343.39,148.69 343.8,151.1C344.21,153.51 344.72,161.69 345.3,160.7C345.88,159.71 348.16,143.6 348.8,142.6C349.44,141.6 350.32,149.22 350.8,152.1C351.28,154.98 352.36,167.06 352.9,167.3C353.44,167.55 354.7,157.91 355.4,154.2C356.1,150.49 358.13,135.38 358.9,135.5C359.67,135.62 361.4,154.43 362,155.2C362.6,155.97 363.53,143.22 364,142.1C364.47,140.98 365.52,145.79 366,145.6C366.48,145.41 367.68,140.68 368.1,140.5C368.52,140.32 369.25,142.75 369.6,144.1C369.95,145.45 370.69,151.52 371.1,152.1C371.51,152.68 372.69,148.97 373.1,149.1C373.51,149.23 374.19,151.67 374.6,153.2C375.01,154.73 376.19,161.38 376.6,162.2C377.01,163.02 377.74,159.95 378.1,160.2C378.46,160.44 379.16,165.54 379.7,164.3C380.24,163.06 382.18,150.54 382.7,149.6C383.22,148.66 383.85,153.9 384.2,156.2C384.55,158.5 385.35,168.6 385.7,169.3C386.05,170 386.79,163.38 387.2,162.2C387.61,161.02 388.78,159.14 389.2,159.2C389.62,159.26 390.38,163.05 390.8,162.7C391.22,162.35 392.39,156.61 392.8,156.2C393.21,155.79 393.89,159.38 394.3,159.2C394.71,159.02 395.89,155.4 396.3,154.7C396.71,154 397.45,153.02 397.8,153.2C398.15,153.38 398.88,156.02 399.3,156.2C399.72,156.38 400.92,155.53 401.4,154.7C401.88,153.87 402.99,149.99 403.4,149.1C403.81,148.21 404.55,146.75 404.9,147.1C405.25,147.45 406.05,150.34 406.4,152.1C406.75,153.86 407.55,160.54 407.9,162.2C408.25,163.86 409.08,165.24 409.4,166.3C409.71,167.36 410.29,170.12 410.6,171.3C410.92,172.48 411.69,175.67 412.1,176.4C412.51,177.13 413.62,177.6 414.1,177.6C414.58,177.6 415.78,176.9 416.2,176.4C416.62,175.9 417.35,173.42 417.7,173.3C418.05,173.18 418.79,174.92 419.2,175.4C419.61,175.88 420.76,177.12 421.2,177.4C421.64,177.68 422.79,177.75 423,177.8"/>
<path stroke="#f00" d="M440,177.8C441.3,177.8 449.34,177.85 451.1,177.8C452.86,177.75 454.46,177.62 455.1,177.4C455.74,177.18 456.24,176.26 456.6,175.9C456.96,175.54 457.78,174.3 458.2,174.3C458.62,174.3 459.79,175.6 460.2,175.9C460.61,176.2 461.29,176.9 461.7,176.9C462.11,176.9 463.23,176.15 463.7,175.9C464.17,175.66 465.23,174.99 465.7,174.8C466.17,174.61 467.22,174.42 467.7,174.3C468.18,174.18 469.38,173.82 469.8,173.8C470.22,173.78 471.01,174.16 471.3,174.1C471.59,174.04 472.01,173.74 472.3,173.3C472.59,172.86 473.45,170.77 473.8,170.3C474.15,169.83 474.89,169.42 475.3,169.3C475.71,169.18 476.82,169.36 477.3,169.3C477.78,169.24 478.98,168.8 479.4,168.8C479.82,168.8 480.61,169.07 480.9,169.3C481.19,169.53 481.61,170.8 481.9,170.8C482.19,170.8 483.04,169.59 483.4,169.3C483.76,169.01 484.58,168.53 485,168.3C485.42,168.07 486.53,167.78 487,167.3C487.47,166.82 488.52,164.32 489,164.2C489.48,164.08 490.62,165.76 491.1,166.3C491.58,166.84 492.63,168.21 493.1,168.8C493.57,169.4 494.63,170.86 495.1,171.4C495.57,171.94 496.63,173.28 497.1,173.4C497.57,173.52 498.56,173.4 499.1,172.4C499.64,171.4 501.16,165.34 501.7,164.8C502.24,164.26 503.23,167.51 503.7,167.8C504.17,168.09 505.29,167.18 505.7,167.3C506.11,167.42 506.79,168.5 507.2,168.8C507.61,169.1 508.73,169.9 509.2,169.9C509.67,169.9 510.72,169.22 511.2,168.8C511.68,168.38 512.82,166.77 513.3,166.3C513.78,165.83 514.83,164.68 515.3,164.8C515.77,164.92 516.83,167.48 517.3,167.3C517.77,167.12 518.89,163.94 519.3,163.3C519.71,162.66 520.45,161.8 520.8,161.8C521.15,161.8 521.95,163.07 522.3,163.3C522.65,163.53 523.38,163.62 523.8,163.8C524.22,163.98 525.48,165.09 525.9,164.8C526.32,164.51 527.08,162 527.4,161.3C527.72,160.6 528.31,158.57 528.6,158.8C528.89,159.03 529.57,161.95 529.9,163.3C530.23,164.65 530.99,169.63 531.4,170.4C531.81,171.17 532.92,169.96 533.4,169.9C533.88,169.84 534.96,170.09 535.5,169.9C536.04,169.71 537.71,168.49 538,168.3"/>
<path stroke="#00f" d="M314.5,169.3C314.73,169.83 316.02,173.8 316.5,173.8C316.98,173.8 318.06,170.12 318.6,169.3C319.14,168.48 320.46,167.21 321.1,166.8C321.74,166.39 323.46,165.68 324.1,165.8C324.74,165.92 325.95,167.1 326.6,167.8C327.25,168.5 329.11,171.68 329.7,171.8C330.29,171.92 331.29,169.09 331.7,168.8C332.11,168.51 332.73,168.95 333.2,169.3C333.67,169.65 335.12,171.92 335.7,171.8C336.28,171.68 337.49,169.42 338.2,168.3C338.91,167.18 341.15,162.43 341.8,162.2C342.45,161.97 343.39,165.3 343.8,166.3C344.21,167.3 344.72,170.98 345.3,170.8C345.88,170.62 348.16,165.09 348.8,164.8C349.44,164.51 350.32,167.25 350.8,168.3C351.28,169.35 352.36,173.8 352.9,173.8C353.44,173.8 354.7,169.65 355.4,168.3C356.1,166.95 358.13,161.85 358.9,162.2C359.67,162.55 361.4,170.82 362,171.3C362.6,171.78 363.53,166.65 364,166.3C364.47,165.95 365.52,168.48 366,168.3C366.48,168.12 367.62,164.74 368.1,164.8C368.58,164.86 369.58,168.68 370.1,168.8C370.62,168.92 372.02,165.8 372.6,165.8C373.18,165.8 374.58,168.74 375.1,168.8C375.62,168.86 376.69,166.48 377.1,166.3C377.51,166.12 378.24,167.48 378.6,167.3C378.96,167.12 379.78,165.63 380.2,164.8C380.62,163.97 381.79,160.14 382.2,160.2C382.61,160.26 383.29,163.83 383.7,165.3C384.11,166.77 385.23,172.68 385.7,172.8C386.17,172.92 387.22,167.29 387.7,166.3C388.18,165.31 389.38,164.36 389.8,164.3C390.22,164.24 390.89,166.05 391.3,165.8C391.71,165.56 392.89,162.32 393.3,162.2C393.71,162.08 394.39,164.98 394.8,164.8C395.21,164.62 396.33,160.94 396.8,160.7C397.27,160.45 398.33,162.7 398.8,162.7C399.27,162.7 400.32,161.17 400.8,160.7C401.28,160.23 402.42,159.11 402.9,158.7C403.38,158.29 404.49,157.14 404.9,157.2C405.31,157.26 406.05,158.25 406.4,159.2C406.75,160.14 407.49,164.12 407.9,165.3C408.31,166.48 409.36,168.01 409.9,169.3C410.44,170.59 412.02,175.43 412.5,176.4C412.98,177.37 413.57,177.54 414,177.6C414.43,177.66 415.71,177.28 416.2,176.9C416.69,176.52 417.73,174.3 418.2,174.3C418.67,174.3 419.73,176.49 420.2,176.9C420.67,177.31 421.97,177.7 422.2,177.8"/>
<path stroke="#00f" d="M422.2,177.8C425.45,177.8 446.5,177.91 450.1,177.8C453.71,177.7 452.52,177.18 453.1,176.9C453.68,176.62 454.69,176 455.1,175.4C455.51,174.81 456.24,172.51 456.6,171.8C456.96,171.09 457.84,169.3 458.2,169.3C458.56,169.3 459.29,171.22 459.7,171.8C460.11,172.38 461.23,174.3 461.7,174.3C462.17,174.3 463.29,172.21 463.7,171.8C464.11,171.39 464.85,170.98 465.2,170.8C465.55,170.62 466.41,170.59 466.7,170.3C466.99,170.01 467.4,168.42 467.7,168.3C468,168.18 468.94,169.18 469.3,169.3C469.66,169.42 470.45,169.01 470.8,169.3C471.15,169.59 471.95,172.15 472.3,171.8C472.65,171.45 473.45,167.42 473.8,166.3C474.15,165.18 474.95,162.74 475.3,162.2C475.65,161.66 476.45,161.93 476.8,161.7C477.15,161.47 477.88,160.67 478.3,160.2C478.72,159.73 480.04,158.11 480.4,157.7C480.76,157.29 481.11,156.52 481.4,156.7C481.69,156.88 482.61,158.25 482.9,159.2C483.19,160.14 483.67,164.8 483.9,164.8C484.13,164.8 484.67,160.2 484.9,159.2C485.13,158.2 485.67,156.2 485.9,156.2C486.13,156.2 486.61,159.68 486.9,159.2C487.19,158.72 488.1,153.44 488.4,152.1C488.7,150.76 489.19,147.83 489.5,147.7C489.81,147.57 490.72,149.8 491.1,151C491.49,152.2 492.4,156.37 492.8,158C493.2,159.63 494.07,163.54 494.5,165C494.93,166.46 496.02,169.64 496.5,170.5C496.98,171.36 498.18,173.36 498.6,172.4C499.02,171.44 499.68,164.77 500.1,162.3C500.52,159.83 501.72,151.79 502.2,151.2C502.68,150.6 503.79,156.02 504.2,157.2C504.61,158.38 505.35,161.53 505.7,161.3C506.05,161.07 506.85,155.32 507.2,155.2C507.55,155.08 508.35,159.24 508.7,160.3C509.05,161.36 509.79,164.42 510.2,164.3C510.61,164.18 511.61,160.89 512.2,159.3C512.8,157.71 514.7,150.7 515.3,150.7C515.89,150.7 516.89,158.72 517.3,159.3C517.71,159.88 518.45,156.94 518.8,155.7C519.15,154.46 519.95,149.05 520.3,148.7C520.65,148.35 521.45,152.35 521.8,152.7C522.15,153.05 522.94,151.41 523.3,151.7C523.66,151.99 524.6,154.31 524.9,155.2C525.2,156.09 525.61,160.23 525.9,159.3C526.19,158.37 527.11,149.5 527.4,147.2C527.69,144.9 528.11,139.25 528.4,139.6C528.69,139.95 529.55,147.2 529.9,150.2C530.25,153.2 531.05,163.66 531.4,165.3C531.75,166.95 532.55,164.65 532.9,164.3C533.25,163.95 533.98,162.59 534.4,162.3C534.82,162.01 536.08,162.15 536.5,161.8C536.92,161.45 537.83,159.59 538,159.3"/>
</g>
<line x1="314.8" y1="177.8" x2="317.8" y2="177.8" stroke="#000" stroke-width="1.1"/>
<text x="310.8" y="181.8" font-size="10.3" text-anchor="end" font-family="'Liberation Sans', Arial, sans-serif" >0</text>
<line x1="314.8" y1="123.4" x2="317.8" y2="123.4" stroke="#000" stroke-width="1.1"/>
<text x="310.8" y="127.4" font-size="10.3" text-anchor="end" font-family="'Liberation Sans', Arial, sans-serif" >5</text>
<line x1="314.8" y1="69" x2="317.8" y2="69" stroke="#000" stroke-width="1.1"/>
<text x="310.8" y="73" font-size="10.3" text-anchor="end" font-family="'Liberation Sans', Arial, sans-serif" >10</text>
<line x1="314.8" y1="14.6" x2="317.8" y2="14.6" stroke="#000" stroke-width="1.1"/>
<text x="310.8" y="18.6" font-size="10.3" text-anchor="end" font-family="'Liberation Sans', Arial, sans-serif" >15</text>
<line x1="314.8" y1="150.6" x2="316.6" y2="150.6" stroke="#000" stroke-width="1"/>
<line x1="314.8" y1="96.2" x2="316.6" y2="96.2" stroke="#000" stroke-width="1"/>
<line x1="314.8" y1="41.8" x2="316.6" y2="41.8" stroke="#000" stroke-width="1"/>
<line x1="314.8" y1="177.8" x2="314.8" y2="174.8" stroke="#000" stroke-width="1.1"/>
<text x="314.4" y="190.9" font-size="10.3" text-anchor="middle" font-family="'Liberation Sans', Arial, sans-serif" >-4</text>
<line x1="342.7" y1="177.8" x2="342.7" y2="176.0" stroke="#000" stroke-width="1.1"/>
<line x1="370.6" y1="177.8" x2="370.6" y2="174.8" stroke="#000" stroke-width="1.1"/>
<text x="370.2" y="190.9" font-size="10.3" text-anchor="middle" font-family="'Liberation Sans', Arial, sans-serif" >-2</text>
<line x1="398.5" y1="177.8" x2="398.5" y2="176.0" stroke="#000" stroke-width="1.1"/>
<line x1="426.4" y1="177.8" x2="426.4" y2="174.8" stroke="#000" stroke-width="1.1"/>
<text x="426.4" y="190.9" font-size="10.3" text-anchor="middle" font-family="'Liberation Sans', Arial, sans-serif" >0</text>
<line x1="454.3" y1="177.8" x2="454.3" y2="176.0" stroke="#000" stroke-width="1.1"/>
<line x1="482.2" y1="177.8" x2="482.2" y2="174.8" stroke="#000" stroke-width="1.1"/>
<text x="482.2" y="190.9" font-size="10.3" text-anchor="middle" font-family="'Liberation Sans', Arial, sans-serif" >2</text>
<line x1="510.1" y1="177.8" x2="510.1" y2="176.0" stroke="#000" stroke-width="1.1"/>
<line x1="538" y1="177.8" x2="538" y2="174.8" stroke="#000" stroke-width="1.1"/>
<text x="538" y="190.9" font-size="10.3" text-anchor="middle" font-family="'Liberation Sans', Arial, sans-serif" >4</text>
<text x="432.6" y="203.4" font-size="10.4" text-anchor="middle" font-family="'Liberation Sans', Arial, sans-serif" >Energy (eV)</text>
<text transform="translate(292,96.9) rotate(-90)" font-size="10.3" text-anchor="middle" font-family="'Liberation Sans', Arial, sans-serif">DOS (states/eV)</text>
<text x="361.5" y="60" font-size="10.3" text-anchor="middle" font-family="'Liberation Sans', Arial, sans-serif" >Bulk_HSE</text>
<line x1="462.2" y1="41.5" x2="486.1" y2="41.5" stroke="#000" stroke-width="1.45"/>
<text x="488.6" y="45.4" font-size="10.2" text-anchor="start" font-family="'Liberation Sans', Arial, sans-serif" >SnSe</text>
<line x1="462.2" y1="54.5" x2="486.1" y2="54.5" stroke="#f00" stroke-width="1.45"/>
<text x="488.6" y="58.4" font-size="10.2" text-anchor="start" font-family="'Liberation Sans', Arial, sans-serif" >Se</text>
<line x1="462.2" y1="67.0" x2="486.1" y2="67.0" stroke="#00f" stroke-width="1.45"/>
<text x="488.6" y="70.9" font-size="10.2" text-anchor="start" font-family="'Liberation Sans', Arial, sans-serif" >Sn</text>
<text x="409.4" y="221.5" font-size="11" text-anchor="middle" font-family="'Liberation Serif', 'Times New Roman', serif">(<tspan font-weight="bold">b</tspan>)</text>
</g>
<g id="pc">
<path d="M44.4,254.24 L44.74,254.24 L45.08,254.25 L45.42,254.25 L45.76,254.25 L46.1,254.26 L46.44,254.26 L46.78,254.27 L47.12,254.27 L47.46,254.28 L47.8,254.29 L48.14,254.3 L48.48,254.32 L48.82,254.33 L49.16,254.35 L49.5,254.38 L49.84,254.4 L50.18,254.44 L50.52,254.48 L50.86,254.52 L51.2,254.57 L51.54,254.64 L51.88,254.71 L52.22,254.79 L52.56,254.89 L52.9,255.01 L53.24,255.14 L53.58,255.29 L53.92,255.47 L54.26,255.67 L54.6,255.91 L54.94,256.18 L55.28,256.48 L55.62,256.83 L55.96,257.23 L56.3,257.68 L56.64,258.2 L56.98,258.78 L57.32,259.43 L57.66,260.16 L58,260.98 L58.34,261.9 L58.68,262.93 L59.02,264.06 L59.36,265.33 L59.7,266.73 L60.04,268.27 L60.38,269.96 L60.72,271.81 L61.06,273.84 L61.4,276.05 L61.74,278.44 L62.08,281.03 L62.42,283.81 L62.76,286.81 L63.1,290 L63.44,293.41 L63.78,297.02 L64.12,300.83 L64.46,304.83 L64.8,309.01 L65.14,313.35 L65.48,317.84 L65.82,322.45 L66.16,327.14 L66.5,331.89 L66.84,336.66 L67.18,341.39 L67.52,346.03 L67.86,350.51 L68.2,354.78 L68.54,358.74 L68.88,362.31 L69.22,365.36 L69.56,367.74 L69.9,369.17 L70.24,368.61 L70.58,366.65 L70.92,363.92 L71.26,360.6 L71.6,356.83 L71.94,352.71 L72.28,348.33 L72.62,343.77 L72.96,339.09 L73.3,334.35 L73.64,329.6 L73.98,324.89 L74.32,320.26 L74.66,315.74 L75,311.35 L75.34,307.12 L75.68,303.07 L76.02,299.21 L76.36,295.56 L76.7,292.12 L77.04,288.9 L77.38,285.89 L77.72,283.11 L78.06,280.55 L78.4,278.2 L78.74,276.07 L79.08,274.14 L79.42,272.42 L79.76,270.9 L80.1,269.57 L80.44,268.43 L80.78,267.47 L81.12,266.7 L81.46,266.1 L81.8,265.67 L82.14,265.42 L82.48,265.33 L82.82,265.42 L83.16,265.67 L83.5,266.1 L83.84,266.7 L84.18,267.47 L84.52,268.43 L84.86,269.57 L85.2,270.9 L85.54,272.42 L85.88,274.14 L86.22,276.07 L86.56,278.2 L86.9,280.55 L87.24,283.11 L87.58,285.89 L87.92,288.9 L88.26,292.12 L88.6,295.56 L88.94,299.21 L89.28,303.07 L89.62,307.12 L89.96,311.35 L90.3,315.74 L90.64,320.26 L90.98,324.9 L91.32,329.61 L91.66,334.35 L92,339.09 L92.34,343.77 L92.68,348.34 L93.02,352.72 L93.36,356.84 L93.7,360.61 L94.04,363.93 L94.38,366.66 L94.72,368.62 L95.06,369.19 L95.4,367.76 L95.74,365.38 L96.08,362.34 L96.42,358.78 L96.76,354.82 L97.1,350.56 L97.44,346.08 L97.78,341.45 L98.12,336.74 L98.46,331.99 L98.8,327.26 L99.14,322.58 L99.48,318 L99.82,313.55 L100.16,309.24 L100.5,305.1 L100.84,301.15 L101.18,297.41 L101.52,293.87 L101.86,290.54 L102.2,287.44 L102.54,284.56 L102.88,281.9 L103.22,279.46 L103.56,277.24 L103.9,275.23 L104.24,273.43 L104.58,271.83 L104.92,270.44 L105.26,269.23 L105.6,268.22 L105.94,267.4 L106.28,266.76 L106.62,266.29 L106.96,266.01 L107.3,265.9 L107.64,265.96 L107.98,266.2 L108.32,266.62 L108.66,267.22 L109,268 L109.34,268.96 L109.68,270.12 L110.02,271.46 L110.36,273.01 L110.7,274.76 L111.04,276.71 L111.38,278.88 L111.72,281.27 L112.06,283.87 L112.4,286.7 L112.74,289.75 L113.08,293.01 L113.42,296.5 L113.76,300.2 L114.1,304.1 L114.44,308.19 L114.78,312.46 L115.12,316.88 L115.46,321.43 L115.8,326.08 L116.14,330.8 L116.48,335.55 L116.82,340.28 L117.16,344.94 L117.5,349.46 L117.84,353.78 L118.18,357.82 L118.52,361.49 L118.86,364.68 L119.2,367.24 L119.54,368.95 L119.88,368.95 L120.22,367.24 L120.56,364.67 L120.9,361.49 L121.24,357.82 L121.58,353.77 L121.92,349.45 L122.26,344.93 L122.6,340.27 L122.94,335.54 L123.28,330.79 L123.62,326.07 L123.96,321.41 L124.3,316.86 L124.64,312.43 L124.98,308.16 L125.32,304.06 L125.66,300.16 L126,296.45 L126.34,292.96 L126.68,289.68 L127.02,286.62 L127.36,283.79 L127.7,281.17 L128.04,278.77 L128.38,276.58 L128.72,274.6 L129.06,272.83 L129.4,271.26 L129.74,269.88 L130.08,268.7 L130.42,267.7 L130.76,266.88 L131.1,266.23 L131.44,265.76 L131.78,265.47 L132.12,265.34 L132.46,265.38 L132.8,265.59 L133.14,265.98 L133.48,266.53 L133.82,267.26 L134.16,268.17 L134.5,269.27 L134.84,270.55 L135.18,272.02 L135.52,273.69 L135.86,275.57 L136.2,277.65 L136.54,279.94 L136.88,282.45 L137.22,285.18 L137.56,288.12 L137.9,291.29 L138.24,294.68 L138.58,298.28 L138.92,302.09 L139.26,306.09 L139.6,310.27 L139.94,314.62 L140.28,319.12 L140.62,323.73 L140.96,328.42 L141.3,333.16 L141.64,337.91 L141.98,342.61 L142.32,347.21 L142.66,351.64 L143,355.83 L143.34,359.7 L143.68,363.14 L144.02,366.03 L144.36,368.21 L144.7,369.29 L145.04,368.2 L145.38,366.02 L145.72,363.13 L146.06,359.68 L146.4,355.8 L146.74,351.61 L147.08,347.16 L147.42,342.56 L147.76,337.84 L148.1,333.09 L148.44,328.33 L148.78,323.61 L149.12,318.98 L149.46,314.46 L149.8,310.08 L150.14,305.86 L150.48,301.81 L150.82,297.95 L151.16,294.29 L151.5,290.84 L151.84,287.59 L152.18,284.54 L152.52,281.7 L152.86,279.07 L153.2,276.63 L153.54,274.37 L153.88,272.3 L154.22,270.41 L154.56,268.67 L154.9,267.1 L155.24,265.66 L155.58,264.37 L155.92,263.2 L156.26,262.15 L156.6,261.2 L156.94,260.36 L157.28,259.6 L157.62,258.93 L157.96,258.34 L158.3,257.81 L158.64,257.34 L158.98,256.93 L159.32,256.57 L159.66,256.25 L160,255.97 L160.34,255.73 L160.68,255.52 L161.02,255.34 L161.36,255.18 L161.7,255.04 L162.04,254.92 L162.38,254.82 L162.72,254.73 L163.06,254.65 L163.4,254.59 L163.74,254.53 L164.08,254.49 L164.42,254.45 L164.76,254.41 L165.1,254.38 L165.44,254.36 L165.78,254.34 L166.12,254.32 L166.46,254.31 L166.8,254.29 L167.14,254.28 L167.48,254.27 L167.82,254.27 L168.16,254.26 L168.5,254.26 L168.84,254.25 L169.18,254.25 L169.52,254.25 L169.86,254.24 L170.2,254.24 L170.54,254.24 L170.88,254.24 L171.22,254.24 L171.56,254.24 L171.9,254.24 L172.24,254.24 L172.58,254.24 L172.92,254.23 L173.26,254.23 L173.6,254.23 L173.94,254.23 L174.28,254.23 L174.62,254.23 L174.96,254.23 L175.3,254.23 L175.64,254.23 L175.98,254.23 L176.32,254.23 L176.66,254.23 L177,254.23 L177.34,254.23 L177.68,254.23 L178.02,254.23 L178.36,254.23 L178.7,254.23 L179.04,254.23 L179.38,254.23 L179.72,254.23 L180.06,254.23 L180.4,254.23 L180.74,254.23 L181.08,254.23 L181.42,254.23 L181.76,254.23 L182.1,254.23 L182.44,254.23 L182.78,254.23 L183.12,254.23 L183.46,254.23 L183.8,254.23 L184.14,254.23 L184.48,254.23 L184.82,254.23 L185.16,254.23 L185.5,254.23 L185.84,254.23 L186.18,254.23 L186.52,254.23 L186.86,254.23 L187.2,254.23 L187.54,254.23 L187.88,254.23 L188.22,254.23 L188.56,254.23 L188.9,254.23 L189.24,254.23 L189.58,254.23 L189.92,254.23 L190.26,254.23 L190.6,254.23 L190.94,254.23 L191.28,254.23 L191.62,254.23 L191.96,254.23 L192.3,254.23 L192.64,254.23 L192.98,254.23 L193.32,254.23 L193.66,254.23 L194,254.23 L194.34,254.23 L194.68,254.23 L195.02,254.23 L195.36,254.23 L195.7,254.23 L196.04,254.23 L196.38,254.23 L196.72,254.23 L197.06,254.23 L197.4,254.23 L197.74,254.23 L198.08,254.23 L198.42,254.23 L198.76,254.23 L199.1,254.23 L199.44,254.23 L199.78,254.23 L200.12,254.23 L200.46,254.23 L200.8,254.23 L201.14,254.23 L201.48,254.23 L201.82,254.23 L202.16,254.23 L202.5,254.23 L202.84,254.23 L203.18,254.23 L203.52,254.23 L203.86,254.23 L204.2,254.23 L204.54,254.23 L204.88,254.23 L205.22,254.23 L205.56,254.23 L205.9,254.23 L206.24,254.23 L206.58,254.23 L206.92,254.23 L207.26,254.23 L207.6,254.23 L207.94,254.23 L208.28,254.23 L208.62,254.23 L208.96,254.23 L209.3,254.23 L209.64,254.23 L209.98,254.23 L210.32,254.23 L210.66,254.23 L211,254.23 L211.34,254.23 L211.68,254.23 L212.02,254.23 L212.36,254.23 L212.7,254.23 L213.04,254.23 L213.38,254.23 L213.72,254.23 L214.06,254.23 L214.4,254.23 L214.74,254.23 L215.08,254.23 L215.42,254.23 L215.76,254.23 L216.1,254.23 L216.44,254.23 L216.78,254.23 L217.12,254.23 L217.46,254.23 L217.8,254.23 L218.14,254.23 L218.48,254.23 L218.82,254.23 L219.16,254.23 L219.5,254.23 L219.84,254.23 L220.18,254.23 L220.52,254.23 L220.86,254.23 L221.2,254.23 L221.54,254.23 L221.88,254.23 L222.22,254.23 L222.56,254.23 L222.9,254.23 L223.24,254.23 L223.58,254.23 L223.92,254.23 L224.26,254.23 L224.6,254.23 L224.94,254.23 L225.28,254.23 L225.62,254.23 L225.96,254.23 L226.3,254.23 L226.64,254.23 L226.98,254.23 L227.32,254.23 L227.66,254.23 L228,254.23 L228.34,254.23 L228.68,254.23 L229.02,254.23 L229.36,254.23 L229.7,254.23 L230.04,254.23 L230.38,254.23 L230.72,254.23 L231.06,254.23 L231.4,254.23 L231.74,254.23 L232.08,254.23 L232.42,254.23 L232.76,254.23 L233.1,254.23 L233.44,254.23 L233.78,254.23 L234.12,254.23 L234.46,254.23 L234.8,254.23 L235.14,254.23 L235.48,254.23 L235.82,254.23 L236.16,254.23 L236.5,254.23 L236.84,254.23 L237.18,254.23 L237.52,254.23 L237.86,254.23 L238.2,254.23 L238.54,254.23 L238.88,254.23 L239.22,254.23 L239.56,254.23 L239.9,254.23 L240.24,254.23 L240.58,254.23 L240.92,254.23 L241.26,254.23 L241.6,254.23 L241.94,254.23 L242.28,254.23 L242.62,254.23 L242.96,254.23 L243.3,254.23 L243.64,254.23 L243.98,254.23 L244.32,254.23 L244.66,254.23 L245,254.23 L245.34,254.23 L245.68,254.23 L246.02,254.23 L246.36,254.23 L246.7,254.23 L247.04,254.23 L247.38,254.23 L247.72,254.23 L248.06,254.23 L248.4,254.23" fill="none" stroke="#000" stroke-width="1.35" stroke-linejoin="round"/>
<line x1="44.4" y1="254.23" x2="248.4" y2="254.23" stroke="#f22" stroke-width="1.6" stroke-dasharray="6.2,5.3"/>
<rect x="44.4" y="237.0" width="204.0" height="149.8" fill="none" stroke="#000" stroke-width="1.3"/>
<line x1="44.4" y1="371.82" x2="47.4" y2="371.82" stroke="#000" stroke-width="1.1"/>
<text x="40.7" y="375.22" font-size="9.5" text-anchor="end" font-family="'Liberation Sans', Arial, sans-serif" >-15</text>
<line x1="44.4" y1="341.86" x2="47.4" y2="341.86" stroke="#000" stroke-width="1.1"/>
<text x="40.7" y="345.26" font-size="9.5" text-anchor="end" font-family="'Liberation Sans', Arial, sans-serif" >-10</text>
<line x1="44.4" y1="311.9" x2="47.4" y2="311.9" stroke="#000" stroke-width="1.1"/>
<text x="40.7" y="315.3" font-size="9.5" text-anchor="end" font-family="'Liberation Sans', Arial, sans-serif" >-5</text>
<line x1="44.4" y1="281.94" x2="47.4" y2="281.94" stroke="#000" stroke-width="1.1"/>
<text x="40.7" y="285.34" font-size="9.5" text-anchor="end" font-family="'Liberation Sans', Arial, sans-serif" >0</text>
<line x1="44.4" y1="251.98" x2="47.4" y2="251.98" stroke="#000" stroke-width="1.1"/>
<text x="40.7" y="255.38" font-size="9.5" text-anchor="end" font-family="'Liberation Sans', Arial, sans-serif" >5</text>
<line x1="44.4" y1="356.84" x2="46.199999999999996" y2="356.84" stroke="#000" stroke-width="1"/>
<line x1="44.4" y1="326.88" x2="46.199999999999996" y2="326.88" stroke="#000" stroke-width="1"/>
<line x1="44.4" y1="296.92" x2="46.199999999999996" y2="296.92" stroke="#000" stroke-width="1"/>
<line x1="44.4" y1="266.96" x2="46.199999999999996" y2="266.96" stroke="#000" stroke-width="1"/>
<line x1="44.4" y1="386.8" x2="44.4" y2="383.8" stroke="#000" stroke-width="1.1"/>
<text x="44.4" y="398.2" font-size="9.3" text-anchor="middle" font-family="'Liberation Sans', Arial, sans-serif" >0</text>
<line x1="61.4" y1="386.8" x2="61.4" y2="385.0" stroke="#000" stroke-width="1.1"/>
<line x1="78.4" y1="386.8" x2="78.4" y2="383.8" stroke="#000" stroke-width="1.1"/>
<text x="78.4" y="398.2" font-size="9.3" text-anchor="middle" font-family="'Liberation Sans', Arial, sans-serif" >4</text>
<line x1="95.4" y1="386.8" x2="95.4" y2="385.0" stroke="#000" stroke-width="1.1"/>
<line x1="112.4" y1="386.8" x2="112.4" y2="383.8" stroke="#000" stroke-width="1.1"/>
<text x="112.4" y="398.2" font-size="9.3" text-anchor="middle" font-family="'Liberation Sans', Arial, sans-serif" >8</text>
<line x1="129.4" y1="386.8" x2="129.4" y2="385.0" stroke="#000" stroke-width="1.1"/>
<line x1="146.4" y1="386.8" x2="146.4" y2="383.8" stroke="#000" stroke-width="1.1"/>
<text x="146.4" y="398.2" font-size="9.3" text-anchor="middle" font-family="'Liberation Sans', Arial, sans-serif" >12</text>
<line x1="163.4" y1="386.8" x2="163.4" y2="385.0" stroke="#000" stroke-width="1.1"/>
<line x1="180.4" y1="386.8" x2="180.4" y2="383.8" stroke="#000" stroke-width="1.1"/>
<text x="180.4" y="398.2" font-size="9.3" text-anchor="middle" font-family="'Liberation Sans', Arial, sans-serif" >16</text>
<line x1="197.4" y1="386.8" x2="197.4" y2="385.0" stroke="#000" stroke-width="1.1"/>
<line x1="214.4" y1="386.8" x2="214.4" y2="383.8" stroke="#000" stroke-width="1.1"/>
<text x="214.4" y="398.2" font-size="9.3" text-anchor="middle" font-family="'Liberation Sans', Arial, sans-serif" >20</text>
<line x1="231.4" y1="386.8" x2="231.4" y2="385.0" stroke="#000" stroke-width="1.1"/>
<line x1="248.4" y1="386.8" x2="248.4" y2="383.8" stroke="#000" stroke-width="1.1"/>
<text x="248.4" y="398.2" font-size="9.3" text-anchor="middle" font-family="'Liberation Sans', Arial, sans-serif" >24</text>
<text x="144.8" y="407.8" font-size="9.4" text-anchor="middle" font-family="'Liberation Sans', Arial, sans-serif" >Z (angstrom)</text>
<text transform="translate(22.7,307.5) rotate(-90)" font-size="9.55" text-anchor="middle" font-family="'Liberation Sans', Arial, sans-serif">Electrostatic potential (eV)</text>
<text class="sm" x="173.5" y="277.4" font-family="'Liberation Sans', Arial, sans-serif" font-size="7.5"><tspan font-style="italic" font-size="8.7">E</tspan><tspan font-style="italic" font-size="6.8" dx="-0.3" dy="2.3">vac</tspan><tspan dy="-2.3" font-size="7.6"> = 4.624 eV</tspan></text>
<text x="132.5" y="430.4" font-size="11" text-anchor="middle" font-family="'Liberation Serif', 'Times New Roman', serif">(<tspan font-weight="bold">c</tspan>)</text>
</g>
<g id="pd">
<path d="M330.5,379.2C332.43,379.19 342.13,379.12 345,379.1C347.87,379.08 350.53,379.07 352,379.05C353.47,379.03 355,379.01 356,378.95C357,378.89 358.73,378.74 359.5,378.6C360.27,378.46 361.29,378.18 361.8,377.9C362.31,377.62 362.97,377.05 363.3,376.5C363.63,375.95 364.07,374.93 364.3,373.8C364.53,372.67 364.84,370.64 365,368C365.16,365.36 365.38,359.73 365.5,354C365.62,348.27 365.79,333.27 365.9,325C366.01,316.73 366.21,298.13 366.3,292C366.39,285.87 366.47,281.73 366.6,279C366.73,276.27 367.09,273.23 367.3,271.5C367.51,269.77 367.97,267 368.2,266C368.43,265 368.76,264.16 369,264C369.24,263.84 369.67,264.4 370,264.8C370.33,265.2 371.1,266.31 371.5,267C371.9,267.69 372.4,268.8 373,270C373.6,271.2 375.2,274.4 376,276C376.8,277.6 378.2,280.13 379,282C379.8,283.87 381.2,287.87 382,290C382.8,292.13 384.2,295.87 385,298C385.8,300.13 387.2,303.87 388,306C388.8,308.13 390.2,312 391,314C391.8,316 393.33,319.4 394,321C394.67,322.6 395.33,324.53 396,326C396.67,327.47 398.2,330.4 399,332C399.8,333.6 401.2,336.6 402,338C402.8,339.4 404.2,341.5 405,342.5C405.8,343.5 407.2,344.98 408,345.5C408.8,346.02 410.2,346.41 411,346.4C411.8,346.39 413.07,345.75 414,345.4C414.93,345.05 416.93,344.23 418,343.8C419.07,343.37 421.07,342.48 422,342.2C422.93,341.92 424.2,341.7 425,341.7C425.8,341.7 427.07,342.03 428,342.2C428.93,342.37 430.93,342.85 432,343C433.07,343.15 434.93,343.23 436,343.3C437.07,343.37 438.93,343.38 440,343.5C441.07,343.62 442.93,343.97 444,344.2C445.07,344.43 446.93,344.85 448,345.2C449.07,345.55 450.93,346.29 452,346.8C453.07,347.31 455.07,348.44 456,349C456.93,349.56 458.2,350.44 459,351C459.8,351.56 461.2,352.53 462,353.2C462.8,353.87 464.2,355.16 465,356C465.8,356.84 467.33,358.63 468,359.5C468.67,360.37 469.47,361.63 470,362.5C470.53,363.37 471.47,365.09 472,366C472.53,366.91 473.47,368.5 474,369.3C474.53,370.1 475.33,371.29 476,372C476.67,372.71 478.2,374.03 479,374.6C479.8,375.17 481.07,375.9 482,376.3C482.93,376.7 484.93,377.32 486,377.6C487.07,377.88 488.8,378.23 490,378.4C491.2,378.57 493.67,378.79 495,378.9C496.33,379.01 498,379.13 500,379.2C502,379.27 505.07,379.36 510,379.4C514.93,379.44 533.4,379.49 537,379.5" fill="none" stroke="#111" stroke-width="1.0" stroke-linejoin="round"/>
<rect x="330.0" y="236.2" width="207.5" height="152.0" fill="none" stroke="#000" stroke-width="1.3"/>
<line x1="330.0" y1="236.12" x2="333.0" y2="236.12" stroke="#000" stroke-width="1.1"/>
<text x="326.6" y="240.42" font-size="9.8" text-anchor="end" font-family="'Liberation Sans', Arial, sans-serif">1.6x10<tspan font-size="6.5" dx="0.5" dy="-4.4">7</tspan></text>
<line x1="330.0" y1="253.98" x2="333.0" y2="253.98" stroke="#000" stroke-width="1.1"/>
<text x="326.6" y="258.28" font-size="9.8" text-anchor="end" font-family="'Liberation Sans', Arial, sans-serif">1.4x10<tspan font-size="6.5" dx="0.5" dy="-4.4">7</tspan></text>
<line x1="330.0" y1="271.84" x2="333.0" y2="271.84" stroke="#000" stroke-width="1.1"/>
<text x="326.6" y="276.14" font-size="9.8" text-anchor="end" font-family="'Liberation Sans', Arial, sans-serif">1.2x10<tspan font-size="6.5" dx="0.5" dy="-4.4">7</tspan></text>
<line x1="330.0" y1="289.7" x2="333.0" y2="289.7" stroke="#000" stroke-width="1.1"/>
<text x="326.6" y="294" font-size="9.8" text-anchor="end" font-family="'Liberation Sans', Arial, sans-serif">1.0x10<tspan font-size="6.5" dx="0.5" dy="-4.4">7</tspan></text>
<line x1="330.0" y1="307.56" x2="333.0" y2="307.56" stroke="#000" stroke-width="1.1"/>
<text x="326.6" y="311.86" font-size="9.8" text-anchor="end" font-family="'Liberation Sans', Arial, sans-serif">8.0x10<tspan font-size="6.5" dx="0.5" dy="-4.4">6</tspan></text>
<line x1="330.0" y1="325.42" x2="333.0" y2="325.42" stroke="#000" stroke-width="1.1"/>
<text x="326.6" y="329.72" font-size="9.8" text-anchor="end" font-family="'Liberation Sans', Arial, sans-serif">6.0x10<tspan font-size="6.5" dx="0.5" dy="-4.4">6</tspan></text>
<line x1="330.0" y1="343.28" x2="333.0" y2="343.28" stroke="#000" stroke-width="1.1"/>
<text x="326.6" y="347.58" font-size="9.8" text-anchor="end" font-family="'Liberation Sans', Arial, sans-serif">4.0x10<tspan font-size="6.5" dx="0.5" dy="-4.4">6</tspan></text>
<line x1="330.0" y1="361.14" x2="333.0" y2="361.14" stroke="#000" stroke-width="1.1"/>
<text x="326.6" y="365.44" font-size="9.8" text-anchor="end" font-family="'Liberation Sans', Arial, sans-serif">2.0x10<tspan font-size="6.5" dx="0.5" dy="-4.4">6</tspan></text>
<line x1="330.0" y1="379" x2="333.0" y2="379" stroke="#000" stroke-width="1.1"/>
<text x="327.4" y="383" font-size="9.9" text-anchor="end" font-family="'Liberation Sans', Arial, sans-serif" >0.0</text>
<line x1="330.0" y1="370.07" x2="331.8" y2="370.07" stroke="#000" stroke-width="1"/>
<line x1="330.0" y1="352.21" x2="331.8" y2="352.21" stroke="#000" stroke-width="1"/>
<line x1="330.0" y1="334.35" x2="331.8" y2="334.35" stroke="#000" stroke-width="1"/>
<line x1="330.0" y1="316.49" x2="331.8" y2="316.49" stroke="#000" stroke-width="1"/>
<line x1="330.0" y1="298.63" x2="331.8" y2="298.63" stroke="#000" stroke-width="1"/>
<line x1="330.0" y1="280.77" x2="331.8" y2="280.77" stroke="#000" stroke-width="1"/>
<line x1="330.0" y1="262.91" x2="331.8" y2="262.91" stroke="#000" stroke-width="1"/>
<line x1="330.0" y1="245.05" x2="331.8" y2="245.05" stroke="#000" stroke-width="1"/>
<line x1="330.0" y1="387.93" x2="331.8" y2="387.93" stroke="#000" stroke-width="1"/>
<line x1="330" y1="388.2" x2="330" y2="385.8" stroke="#000" stroke-width="1.1"/>
<text x="330" y="398.6" font-size="9.6" text-anchor="middle" font-family="'Liberation Sans', Arial, sans-serif" >0</text>
<line x1="338.3" y1="388.2" x2="338.3" y2="386.7" stroke="#000" stroke-width="1.1"/>
<line x1="346.6" y1="388.2" x2="346.6" y2="385.8" stroke="#000" stroke-width="1.1"/>
<text x="346.6" y="398.6" font-size="9.6" text-anchor="middle" font-family="'Liberation Sans', Arial, sans-serif" >2</text>
<line x1="354.9" y1="388.2" x2="354.9" y2="386.7" stroke="#000" stroke-width="1.1"/>
<line x1="363.2" y1="388.2" x2="363.2" y2="385.8" stroke="#000" stroke-width="1.1"/>
<text x="363.2" y="398.6" font-size="9.6" text-anchor="middle" font-family="'Liberation Sans', Arial, sans-serif" >4</text>
<line x1="371.5" y1="388.2" x2="371.5" y2="386.7" stroke="#000" stroke-width="1.1"/>
<line x1="379.8" y1="388.2" x2="379.8" y2="385.8" stroke="#000" stroke-width="1.1"/>
<text x="379.8" y="398.6" font-size="9.6" text-anchor="middle" font-family="'Liberation Sans', Arial, sans-serif" >6</text>
<line x1="388.1" y1="388.2" x2="388.1" y2="386.7" stroke="#000" stroke-width="1.1"/>
<line x1="396.4" y1="388.2" x2="396.4" y2="385.8" stroke="#000" stroke-width="1.1"/>
<text x="396.4" y="398.6" font-size="9.6" text-anchor="middle" font-family="'Liberation Sans', Arial, sans-serif" >8</text>
<line x1="404.7" y1="388.2" x2="404.7" y2="386.7" stroke="#000" stroke-width="1.1"/>
<line x1="413" y1="388.2" x2="413" y2="385.8" stroke="#000" stroke-width="1.1"/>
<text x="413" y="398.6" font-size="9.6" text-anchor="middle" font-family="'Liberation Sans', Arial, sans-serif" >10</text>
<line x1="421.3" y1="388.2" x2="421.3" y2="386.7" stroke="#000" stroke-width="1.1"/>
<line x1="429.6" y1="388.2" x2="429.6" y2="385.8" stroke="#000" stroke-width="1.1"/>
<text x="429.6" y="398.6" font-size="9.6" text-anchor="middle" font-family="'Liberation Sans', Arial, sans-serif" >12</text>
<line x1="437.9" y1="388.2" x2="437.9" y2="386.7" stroke="#000" stroke-width="1.1"/>
<line x1="446.2" y1="388.2" x2="446.2" y2="385.8" stroke="#000" stroke-width="1.1"/>
<text x="446.2" y="398.6" font-size="9.6" text-anchor="middle" font-family="'Liberation Sans', Arial, sans-serif" >14</text>
<line x1="454.5" y1="388.2" x2="454.5" y2="386.7" stroke="#000" stroke-width="1.1"/>
<line x1="462.8" y1="388.2" x2="462.8" y2="385.8" stroke="#000" stroke-width="1.1"/>
<text x="462.8" y="398.6" font-size="9.6" text-anchor="middle" font-family="'Liberation Sans', Arial, sans-serif" >16</text>
<line x1="471.1" y1="388.2" x2="471.1" y2="386.7" stroke="#000" stroke-width="1.1"/>
<line x1="479.4" y1="388.2" x2="479.4" y2="385.8" stroke="#000" stroke-width="1.1"/>
<text x="479.4" y="398.6" font-size="9.6" text-anchor="middle" font-family="'Liberation Sans', Arial, sans-serif" >18</text>
<line x1="487.7" y1="388.2" x2="487.7" y2="386.7" stroke="#000" stroke-width="1.1"/>
<line x1="496" y1="388.2" x2="496" y2="385.8" stroke="#000" stroke-width="1.1"/>
<text x="496" y="398.6" font-size="9.6" text-anchor="middle" font-family="'Liberation Sans', Arial, sans-serif" >20</text>
<line x1="504.3" y1="388.2" x2="504.3" y2="386.7" stroke="#000" stroke-width="1.1"/>
<line x1="512.6" y1="388.2" x2="512.6" y2="385.8" stroke="#000" stroke-width="1.1"/>
<text x="512.6" y="398.6" font-size="9.6" text-anchor="middle" font-family="'Liberation Sans', Arial, sans-serif" >22</text>
<line x1="520.9" y1="388.2" x2="520.9" y2="386.7" stroke="#000" stroke-width="1.1"/>
<line x1="529.2" y1="388.2" x2="529.2" y2="385.8" stroke="#000" stroke-width="1.1"/>
<text x="529.2" y="398.6" font-size="9.6" text-anchor="middle" font-family="'Liberation Sans', Arial, sans-serif" >24</text>
<line x1="537.5" y1="388.2" x2="537.5" y2="386.7" stroke="#000" stroke-width="1.1"/>
<text x="433.2" y="411.8" font-size="10" text-anchor="middle" font-family="'Liberation Sans', Arial, sans-serif" >Photon energy (eV)</text>
<text transform="translate(287.9,301.3) rotate(-90)" font-size="10.1" text-anchor="middle" font-family="'Liberation Sans', Arial, sans-serif">Intensity (a.u.)</text>
<text x="409.5" y="429.8" font-size="11" text-anchor="middle" font-family="'Liberation Serif', 'Times New Roman', serif">(<tspan font-weight="bold">d</tspan>)</text>
<line x1="363.7" y1="254.4" x2="363.7" y2="388" stroke="#00f" stroke-width="1.5" stroke-dasharray="6.8,3.4"/>
<line x1="363.7" y1="246" x2="363.7" y2="251.6" stroke="#00f" stroke-width="1.4"/>
<line x1="506.0" y1="254.4" x2="506.0" y2="388" stroke="#00f" stroke-width="1.5" stroke-dasharray="6.8,3.4"/>
<line x1="506.0" y1="246" x2="506.0" y2="251.6" stroke="#00f" stroke-width="1.4"/>
<line x1="364" y1="248.6" x2="415.8" y2="248.6" stroke="#00f" stroke-width="1.2"/>
<line x1="461" y1="248.6" x2="505.6" y2="248.6" stroke="#00f" stroke-width="1.2"/>
<path d="M364.2,248.6 L368.6,247.2 L368.6,250 Z" fill="#00f"/>
<path d="M505.5,248.6 L501.1,247.2 L501.1,250 Z" fill="#00f"/>
<text x="426" y="250.8" font-size="10" font-family="'Liberation Serif', 'Times New Roman', serif" font-style="italic">hν − Φ</text>
<rect x="416.0" y="256.1" width="86.0" height="69.89999999999998" fill="#fff" stroke="#333" stroke-width="1.1"/>
<path d="M416.3,320.9C417.46,320.89 422.51,320.84 425,320.8C427.49,320.76 432.33,320.67 435,320.6C437.67,320.53 442.73,320.38 445,320.3C447.27,320.22 450.27,320.11 452,320C453.73,319.89 456.67,319.66 458,319.5C459.33,319.34 461.13,319 462,318.8C462.87,318.6 463.81,318.35 464.5,318C465.19,317.65 466.56,316.77 467.2,316.2C467.84,315.63 468.75,314.5 469.3,313.7C469.85,312.9 470.77,311.48 471.3,310.2C471.83,308.92 472.77,305.98 473.3,304.1C473.83,302.22 474.83,297.98 475.3,296.1C475.77,294.22 476.41,291.57 476.8,290C477.19,288.43 477.81,285.83 478.2,284.3C478.59,282.77 479.3,279.98 479.7,278.5C480.1,277.02 480.83,274.43 481.2,273.2C481.57,271.97 482.15,270.25 482.5,269.3C482.85,268.35 483.47,266.86 483.8,266.1C484.13,265.34 484.67,264.2 485,263.6C485.33,263 485.97,262 486.3,261.6C486.63,261.2 487.17,260.8 487.5,260.6C487.83,260.4 488.29,260.23 488.8,260.1C489.31,259.97 490.55,259.8 491.3,259.6C492.05,259.4 493.65,258.8 494.4,258.6C495.15,258.4 496.37,258.35 496.9,258.1C497.43,257.85 497.93,256.94 498.4,256.7C498.87,256.46 499.95,256.31 500.4,256.3C500.85,256.29 501.61,256.56 501.8,256.6" fill="none" stroke="#111" stroke-width="1.1" stroke-linejoin="round"/>
<line x1="416.5" y1="320.6" x2="480.4" y2="319.5" stroke="#f00" stroke-width="1.1" stroke-dasharray="3.5,2.8"/>
<line x1="466.8" y1="322" x2="485.6" y2="257.6" stroke="#f00" stroke-width="1.1" stroke-dasharray="4,2.4"/>
<line x1="459.2" y1="306.1" x2="467.2" y2="319.4" stroke="#f00" stroke-width="1"/>
<path d="M467.4,319.8 L464.3,317.4 L466.9,316.2 Z" fill="#f00"/>
<line x1="416.5" y1="326.0" x2="416.5" y2="324.2" stroke="#333" stroke-width="0.8"/>
<text x="416.5" y="332.6" font-size="6.4" text-anchor="middle" font-family="'Liberation Sans', Arial, sans-serif" class="sm">3.4</text>
<line x1="429.66" y1="326.0" x2="429.66" y2="324.2" stroke="#333" stroke-width="0.8"/>
<text x="429.66" y="332.6" font-size="6.4" text-anchor="middle" font-family="'Liberation Sans', Arial, sans-serif" class="sm">3.6</text>
<line x1="442.82" y1="326.0" x2="442.82" y2="324.2" stroke="#333" stroke-width="0.8"/>
<text x="442.82" y="332.6" font-size="6.4" text-anchor="middle" font-family="'Liberation Sans', Arial, sans-serif" class="sm">3.8</text>
<line x1="455.98" y1="326.0" x2="455.98" y2="324.2" stroke="#333" stroke-width="0.8"/>
<text x="455.98" y="332.6" font-size="6.4" text-anchor="middle" font-family="'Liberation Sans', Arial, sans-serif" class="sm">4.0</text>
<line x1="469.14" y1="326.0" x2="469.14" y2="324.2" stroke="#333" stroke-width="0.8"/>
<text x="469.14" y="332.6" font-size="6.4" text-anchor="middle" font-family="'Liberation Sans', Arial, sans-serif" class="sm">4.2</text>
<line x1="482.3" y1="326.0" x2="482.3" y2="324.2" stroke="#333" stroke-width="0.8"/>
<text x="482.3" y="332.6" font-size="6.4" text-anchor="middle" font-family="'Liberation Sans', Arial, sans-serif" class="sm">4.4</text>
<line x1="495.46" y1="326.0" x2="495.46" y2="324.2" stroke="#333" stroke-width="0.8"/>
<text x="495.46" y="332.6" font-size="6.4" text-anchor="middle" font-family="'Liberation Sans', Arial, sans-serif" class="sm">4.6</text>
<line x1="423.08" y1="326.0" x2="423.08" y2="324.9" stroke="#333" stroke-width="0.7"/>
<line x1="436.24" y1="326.0" x2="436.24" y2="324.9" stroke="#333" stroke-width="0.7"/>
<line x1="449.4" y1="326.0" x2="449.4" y2="324.9" stroke="#333" stroke-width="0.7"/>
<line x1="462.56" y1="326.0" x2="462.56" y2="324.9" stroke="#333" stroke-width="0.7"/>
<line x1="475.72" y1="326.0" x2="475.72" y2="324.9" stroke="#333" stroke-width="0.7"/>
<line x1="488.88" y1="326.0" x2="488.88" y2="324.9" stroke="#333" stroke-width="0.7"/>
<line x1="416.0" y1="316.1" x2="417.3" y2="316.1" stroke="#333" stroke-width="0.7"/>
<line x1="416.0" y1="306.2" x2="417.3" y2="306.2" stroke="#333" stroke-width="0.7"/>
<line x1="416.0" y1="296.3" x2="417.3" y2="296.3" stroke="#333" stroke-width="0.7"/>
<line x1="416.0" y1="286.4" x2="417.3" y2="286.4" stroke="#333" stroke-width="0.7"/>
<line x1="416.0" y1="276.5" x2="417.3" y2="276.5" stroke="#333" stroke-width="0.7"/>
<line x1="416.0" y1="266.6" x2="417.3" y2="266.6" stroke="#333" stroke-width="0.7"/>
<text x="459.5" y="339.6" font-size="6.6" text-anchor="middle" font-family="'Liberation Sans', Arial, sans-serif" class="sm">Photon energy (eV)</text>
<text class="sm" transform="translate(413.7,289) rotate(-90)" font-size="6.6" text-anchor="middle" font-family="'Liberation Sans', Arial, sans-serif">Intensity (a.u.)</text>
<text x="454.6" y="301.9" font-size="6.7" text-anchor="middle" font-family="'Liberation Sans', Arial, sans-serif" class="sm">4.18 eV</text>
</g></svg>
</body></html>
